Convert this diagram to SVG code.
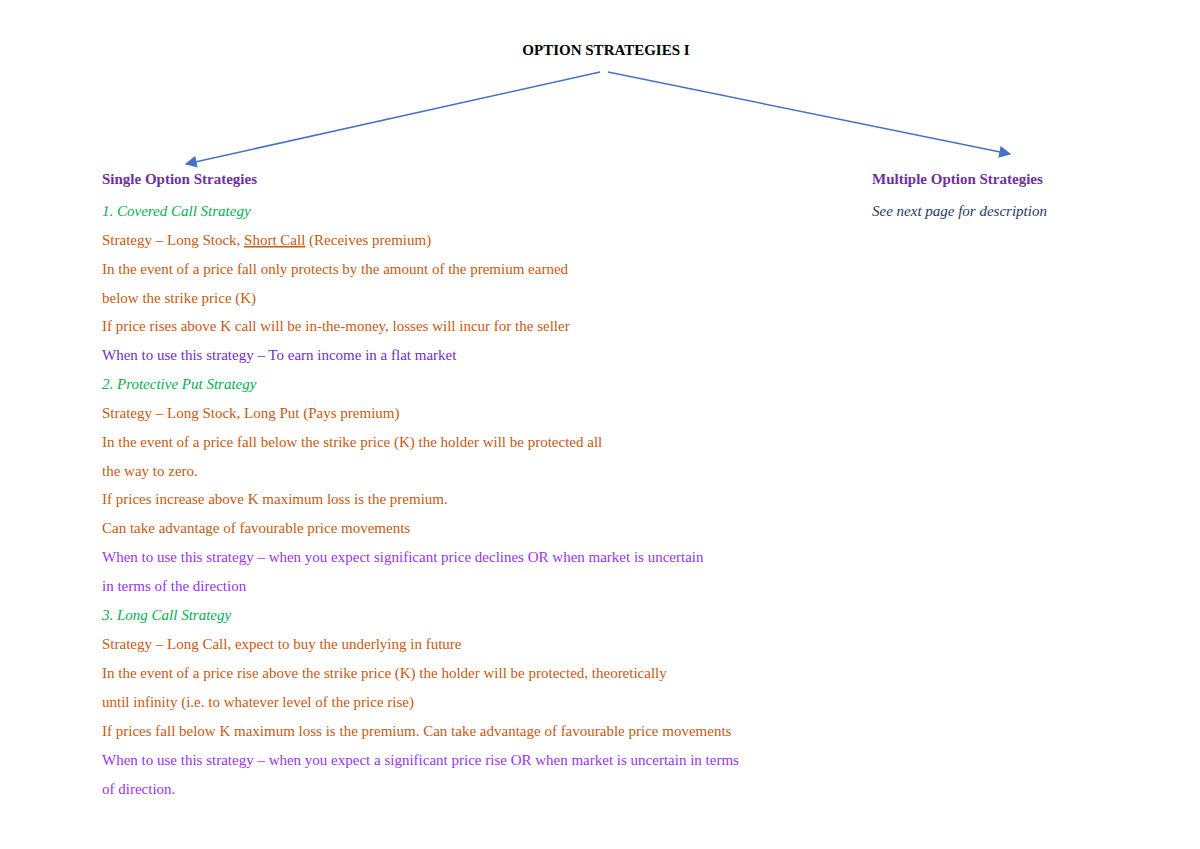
<svg xmlns="http://www.w3.org/2000/svg" width="1200" height="849" viewBox="0 0 1200 849">
<style>
text{font-family:"Liberation Serif","Times New Roman",serif;font-size:15px}
.h{font-weight:bold;fill:#7030A0}
.g{fill:#00B050;font-style:italic}
.o{fill:#C55A11}
.p{fill:#7030C0}
.v{fill:#9933EE}
.n{fill:#1F3864;font-style:italic}
</style>
<defs><marker id="a" viewBox="0 0 10 10" refX="9" refY="5" markerWidth="8" markerHeight="8" orient="auto"><path d="M0,0L10,5L0,10z" fill="#4472C4"/></marker></defs>
<rect width="1200" height="849" fill="#fff"/>
<g id="title"><text x="606" y="55" text-anchor="middle" font-weight="bold" fill="#000">OPTION STRATEGIES I</text></g>
<g id="connectors" stroke="#4472C4" stroke-width="1.5" fill="none">
<line x1="600" y1="72" x2="186" y2="164" marker-end="url(#a)"/>
<line x1="608" y1="72" x2="1010" y2="154" marker-end="url(#a)"/>
</g>
<g id="single">
<text x="102" y="184" class="h">Single Option Strategies</text>
<text x="102" y="216" class="g">1. Covered Call Strategy</text>
<text x="102" y="245" class="o">Strategy – Long Stock, <tspan text-decoration="underline">Short Call</tspan> (Receives premium)</text>
<text x="102" y="274" class="o">In the event of a price fall only protects by the amount of the premium earned</text>
<text x="102" y="303" class="o">below the strike price (K)</text>
<text x="102" y="331" class="o">If price rises above K call will be in-the-money, losses will incur for the seller</text>
<text x="102" y="360" class="p">When to use this strategy – To earn income in a flat market</text>
<text x="102" y="389" class="g">2. Protective Put Strategy</text>
<text x="102" y="418" class="o">Strategy – Long Stock, Long Put (Pays premium)</text>
<text x="102" y="447" class="o">In the event of a price fall below the strike price (K) the holder will be protected all</text>
<text x="102" y="476" class="o">the way to zero.</text>
<text x="102" y="504" class="o">If prices increase above K maximum loss is the premium.</text>
<text x="102" y="533" class="o">Can take advantage of favourable price movements</text>
<text x="102" y="562" class="v">When to use this strategy – when you expect significant price declines OR when market is uncertain</text>
<text x="102" y="591" class="v">in terms of the direction</text>
<text x="102" y="620" class="g">3. Long Call Strategy</text>
<text x="102" y="649" class="o">Strategy – Long Call, expect to buy the underlying in future</text>
<text x="102" y="678" class="o">In the event of a price rise above the strike price (K) the holder will be protected, theoretically</text>
<text x="102" y="707" class="o">until infinity (i.e. to whatever level of the price rise)</text>
<text x="102" y="736" class="o">If prices fall below K maximum loss is the premium. Can take advantage of favourable price movements</text>
<text x="102" y="765" class="v">When to use this strategy – when you expect a significant price rise OR when market is uncertain in terms</text>
<text x="102" y="794" class="v">of direction.</text>
</g>
<g id="multiple">
<text x="872" y="184" class="h">Multiple Option Strategies</text>
<text x="872" y="216" class="n">See next page for description</text>
</g>
</svg>
